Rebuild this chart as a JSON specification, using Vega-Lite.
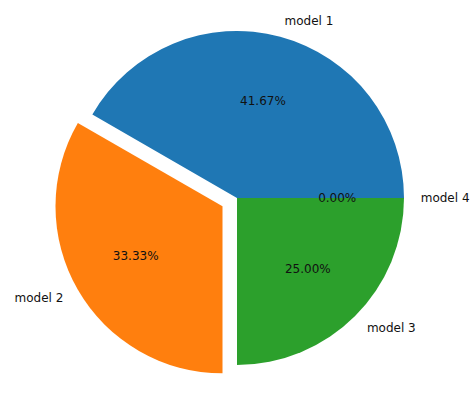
{
  "$schema": "https://vega.github.io/schema/vega-lite/v6.json",
  "width": 474,
  "height": 396,
  "padding": 0,
  "autosize": {"type": "none"},
  "background": "white",
  "view": {"stroke": null},
  "data": {
    "values": [
      {"model": "model 1", "value": 0.4167},
      {"model": "model 2", "value": 0.3333},
      {"model": "model 3", "value": 0.25},
      {"model": "model 4", "value": 0}
    ]
  },
  "encoding": {
    "theta": {"field": "value", "type": "quantitative", "stack": true, "scale": {"range": [1.5707963, 7.8539816]}},
    "order": {"field": "model", "type": "ordinal", "sort": "descending"}
  },
  "layer": [
    {
      "mark": {"type": "arc", "outerRadius": 167},
      "encoding": {
        "color": {"field": "model", "type": "nominal", "legend": null,
          "scale": {"domain": ["model 1", "model 2", "model 3", "model 4"], "range": ["#1f77b4", "#ff7f0e", "#2ca02c", "#d62728"]}},
        "opacity": {"condition": {"test": "datum.model === 'model 2'", "value": 0}, "value": 1}
      }
    },
    {
      "mark": {"type": "arc", "outerRadius": 167, "xOffset": -14.5, "yOffset": 8.35},
      "encoding": {
        "color": {"field": "model", "type": "nominal", "legend": null},
        "opacity": {"condition": {"test": "datum.model === 'model 2'", "value": 1}, "value": 0}
      }
    },
    {
      "mark": {"type": "text", "radius": 100.2, "font": "DejaVu Sans", "fontSize": 12, "color": "#111111", "align": "center", "baseline": "middle"},
      "encoding": {
        "detail": {"field": "model", "type": "nominal"},
        "text": {"field": "value", "type": "quantitative", "format": ".2%"},
        "opacity": {"condition": {"test": "datum.model === 'model 2'", "value": 0}, "value": 1}
      }
    },
    {
      "mark": {"type": "text", "radius": 100.2, "xOffset": -14.5, "yOffset": 8.35, "font": "DejaVu Sans", "fontSize": 12, "color": "#111111", "align": "center", "baseline": "middle"},
      "encoding": {
        "detail": {"field": "model", "type": "nominal"},
        "text": {"field": "value", "type": "quantitative", "format": ".2%"},
        "opacity": {"condition": {"test": "datum.model === 'model 2'", "value": 1}, "value": 0}
      }
    },
    {
      "mark": {"type": "text", "radius": 183.7, "font": "DejaVu Sans", "fontSize": 12, "color": "#111111", "align": "left", "baseline": "middle"},
      "encoding": {
        "detail": {"field": "model", "type": "nominal"},
        "text": {"field": "model", "type": "nominal"},
        "opacity": {"condition": {"test": "datum.model === 'model 2'", "value": 0}, "value": 1}
      }
    },
    {
      "mark": {"type": "text", "radius": 183.7, "xOffset": -14.5, "yOffset": 8.35, "font": "DejaVu Sans", "fontSize": 12, "color": "#111111", "align": "right", "baseline": "middle"},
      "encoding": {
        "detail": {"field": "model", "type": "nominal"},
        "text": {"field": "model", "type": "nominal"},
        "opacity": {"condition": {"test": "datum.model === 'model 2'", "value": 1}, "value": 0}
      }
    }
  ]
}
